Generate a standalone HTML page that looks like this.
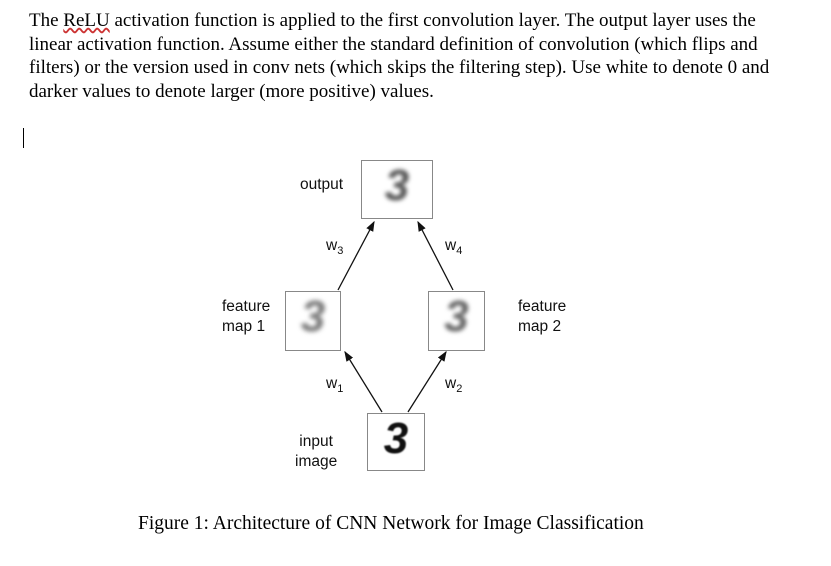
<!DOCTYPE html>
<html><head><style>
body{margin:0;width:831px;height:566px;background:#fff;position:relative;overflow:hidden}
.t{position:absolute;left:29px;top:9px;width:760px;font:19px/23.5px "Liberation Serif",serif;color:#000}
.s{position:absolute;font:15.5px/20px "Liberation Sans",sans-serif;color:#111}
.b{position:absolute;border:1px solid #888;background:#fff;overflow:hidden}
.d{position:absolute;font:italic bold 44px "Liberation Sans",sans-serif;color:#222;filter:blur(1.5px);text-align:center;width:100%;top:0px}
</style></head><body>
<div class="t">The <span style="text-decoration:underline wavy #c33">ReLU</span> activation function is applied to the first convolution layer. The output layer uses the linear activation function. Assume either the standard definition of convolution (which flips and filters) or the version used in conv nets (which skips the filtering step). Use white to denote 0 and darker values to denote larger (more positive) values.</div>
<div style="position:absolute;left:23px;top:128px;width:1px;height:20px;background:#000"></div>
<svg style="position:absolute;left:0;top:0" width="831" height="566">
<defs><marker id="a" markerWidth="8" markerHeight="8" refX="7" refY="4" orient="auto"><path d="M0,1 L8,4 L0,7z" fill="#111"/></marker></defs>
<g stroke="#111" stroke-width="1.3" marker-end="url(#a)">
<line x1="338" y1="290" x2="374" y2="222"/>
<line x1="453" y1="290" x2="418" y2="222"/>
<line x1="382" y1="412" x2="345" y2="352"/>
<line x1="408" y1="412" x2="446" y2="352"/>
</g></svg>
<div class="b" style="left:361px;top:160px;width:70px;height:57px"><div class="d" style="color:#555;filter:blur(2px)">3</div></div>
<div class="b" style="left:285px;top:291px;width:54px;height:58px"><div class="d" style="color:#777;filter:blur(2.5px)">3</div></div>
<div class="b" style="left:428px;top:291px;width:55px;height:58px"><div class="d" style="color:#666;filter:blur(2px)">3</div></div>
<div class="b" style="left:367px;top:413px;width:56px;height:56px"><div class="d" style="color:#111;filter:blur(0.8px)">3</div></div>
<div class="s" style="left:300px;top:175px">output</div>
<div class="s" style="left:326px;top:236px">w<sub style="font-size:11px">3</sub></div>
<div class="s" style="left:445px;top:236px">w<sub style="font-size:11px">4</sub></div>
<div class="s" style="left:222px;top:297px">feature<br>map 1</div>
<div class="s" style="left:518px;top:297px">feature<br>map 2</div>
<div class="s" style="left:326px;top:374px">w<sub style="font-size:11px">1</sub></div>
<div class="s" style="left:295px;top:432px;text-align:center">input<br>image</div>
<div class="s" style="left:445px;top:374px">w<sub style="font-size:11px">2</sub></div>
<div class="t" style="left:138px;top:512px;width:650px;font-size:19.5px">Figure 1: Architecture of CNN Network for Image Classification</div>
</body></html>
